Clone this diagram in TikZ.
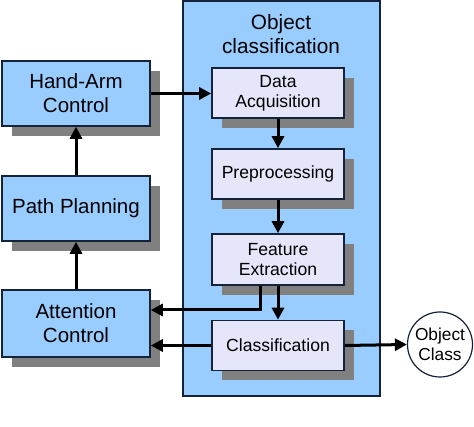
\documentclass[tikz,border=0pt]{standalone}
\usepackage{fontspec}
\setmainfont{Liberation Sans}
\usetikzlibrary{arrows.meta,shadows}
\definecolor{boxblue}{HTML}{99CCFF}
\definecolor{boxlav}{HTML}{E6E6FA}
\definecolor{edge}{HTML}{14223A}
\definecolor{shade}{HTML}{808080}
\begin{document}
\begin{tikzpicture}[x=1pt,y=-1pt,
  shad/.style={drop shadow={shadow xshift=10pt,shadow yshift=-10pt,fill=shade,opacity=1}},
  bigbox/.style={draw=edge,line width=1.6pt,fill=boxblue,shad,minimum width=148pt,minimum height=65pt,align=center,inner sep=0pt,font=\fontsize{20.5}{24}\selectfont},
  inbox/.style={draw=edge,line width=1.6pt,fill=boxlav,shad,minimum width=132pt,minimum height=50pt,align=center,inner sep=0pt,font=\fontsize{17.6}{20}\selectfont},
  arr/.style={line width=3pt,-{Triangle[length=12pt,width=12pt]}}]
\useasboundingbox (0,0) rectangle (474,427);
\node[draw=edge,line width=1.6pt,fill=boxblue,minimum width=197pt,minimum height=395pt,inner sep=0pt] (big) at (281.5,198.5) {};
\node[align=center,font=\fontsize{20.8}{23.5}\selectfont] (title) at (281,34) {Object\\classification};
\node[bigbox] (handarm) at (76,93.5) {Hand-Arm\\Control};
\node[bigbox] (pathplan) at (76,208.5) {Path Planning};
\node[bigbox,minimum height=67pt] (attention) at (76,323.5) {Attention\\Control};
\node[inbox] (dataacq) at (278,93) {Data\\Acquisition};
\node[inbox] (preproc) at (278,174) {Preprocessing};
\node[inbox,minimum height=51pt] (feature) at (278,259.5) {Feature\\Extraction};
\node[inbox] (classif) at (278,345.5) {Classification};
\node[draw=edge,line width=1.2pt,fill=white,circle,minimum size=65pt,inner sep=0pt,align=center,font=\fontsize{17.3}{20}\selectfont] (obj) at (440,344.5) {Object\\Class};
\coordinate (fa) at (260,310);
\draw[arr] (handarm.east) -- (handarm.east -| dataacq.west);
\draw[arr] (pathplan.north) -- (handarm.south);
\draw[arr] (attention.north) -- (pathplan.south);
\draw[arr] (dataacq.south) -- (preproc.north);
\draw[arr] (preproc.south) -- (feature.north);
\draw[arr] (feature.south) -- (classif.north);
\draw[arr] (feature.south -| fa) -- (fa) -- (fa -| attention.east);
\draw[arr] (classif.west) -- (classif.west -| attention.east);
\draw[arr] (classif.east) -- (obj.west);
\end{tikzpicture}
\end{document}
